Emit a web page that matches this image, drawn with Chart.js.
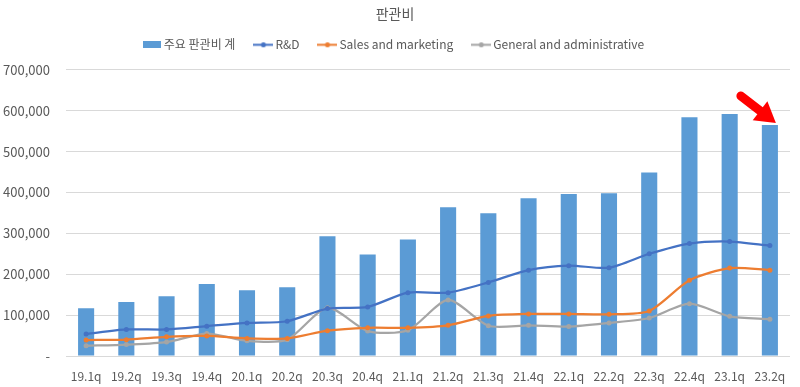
<!DOCTYPE html>
<html>
<head>
<meta charset="utf-8">
<script src="https://cdn.jsdelivr.net/npm/chart.js@4"></script>
<style>
html,body{margin:0;padding:0;background:#fff;}
#wrap{width:800px;height:387px;position:relative;}
</style>
</head>
<body>
<div id="wrap"><canvas id="c"></canvas></div>
<script>
const categories = ['19.1q','19.2q','19.3q','19.4q','20.1q','20.2q','20.3q','20.4q','21.1q','21.2q','21.3q','21.4q','22.1q','22.2q','22.3q','22.4q','23.1q','23.2q'];
const totalSGA = [117000,132000,146000,176000,161000,168000,293000,248000,285000,364000,349000,386000,396000,398000,449000,584000,592000,565000];
const rnd = [54000,65000,65000,73000,81000,85000,116000,120000,155000,155000,180000,210000,221000,216000,250000,275000,280000,270000];
const salesMarketing = [39000,40000,47000,49000,43000,43000,62000,69000,69000,75000,98000,103000,103000,102000,110000,185000,215000,210000];
const generalAdmin = [25000,28000,34000,55000,37000,40000,118000,61000,63000,137000,74000,75000,72000,81000,93000,128000,97000,90000];
const seriesNames = ['주요 판관비 계','R&D','Sales and marketing','General and administrative'];
const yTicks = [0,100000,200000,300000,400000,500000,600000,700000];

const FONT = "'Noto Sans CJK KR', 'Noto Sans', sans-serif";
const TXT = '#595959';
const C_BAR = '#5B9BD5', C_RD = '#4472C4', C_SM = '#ED7D31', C_GA = '#A5A5A5';

function swatchBar(color){
  const c = document.createElement('canvas'); c.width = 18; c.height = 7;
  const x = c.getContext('2d'); x.fillStyle = color; x.fillRect(0,0,18,7); return c;
}
function swatchLine(color){
  const c = document.createElement('canvas'); c.width = 20; c.height = 7;
  const x = c.getContext('2d'); x.strokeStyle = color; x.lineWidth = 2;
  x.beginPath(); x.moveTo(0,3.5); x.lineTo(20,3.5); x.stroke();
  x.fillStyle = color; x.beginPath(); x.arc(10,3.5,2.5,0,Math.PI*2); x.fill(); return c;
}
const swatches = [swatchBar(C_BAR), swatchLine(C_RD), swatchLine(C_SM), swatchLine(C_GA)];

const legendFix = {
  id: 'legendFix',
  afterInit(chart){
    const lg = chart.legend;
    const origFit = lg.fit.bind(lg);
    lg.fit = function(){ origFit(); this.height = 48; };
    const origDraw = lg.draw.bind(lg);
    lg.draw = function(){
      const ctx = this.ctx; ctx.save(); ctx.translate(0, -5); origDraw(); ctx.restore();
    };
  }
};

const arrowPlugin = {
  id: 'arrow',
  afterDatasetsDraw(chart){
    const xs = chart.scales.x, ys = chart.scales.y;
    const i = categories.length - 1;
    const xc = xs.getPixelForValue(i);
    const top = ys.getPixelForValue(totalSGA[i]);
    const tip = {x: xc + 6, y: top - 2};
    const tail = {x: xc - 29, y: top - 29};
    const dx = tip.x - tail.x, dy = tip.y - tail.y, L = Math.hypot(dx, dy);
    const ux = dx / L, uy = dy / L, px = -uy, py = ux;
    const hl = 20, hw = 12;
    const bx = tip.x - ux*hl, by = tip.y - uy*hl;
    const ctx = chart.ctx;
    ctx.save();
    ctx.strokeStyle = '#FF0000'; ctx.fillStyle = '#FF0000';
    ctx.lineWidth = 9; ctx.lineCap = 'round';
    ctx.beginPath(); ctx.moveTo(tail.x, tail.y); ctx.lineTo(bx + ux*2, by + uy*2); ctx.stroke();
    ctx.beginPath();
    ctx.moveTo(tip.x, tip.y);
    ctx.lineTo(bx + px*hw, by + py*hw);
    ctx.lineTo(bx - px*hw, by - py*hw);
    ctx.closePath(); ctx.fill();
    ctx.restore();
  }
};

const lineDs = (label, data, color) => ({
  type: 'line', label, data, borderColor: color, backgroundColor: color,
  borderWidth: 2.25, pointRadius: 2.5, pointBackgroundColor: color, pointBorderColor: color,
  pointBorderWidth: 0, tension: 0.25, order: 0
});

new Chart(document.getElementById('c'), {
  data: {
    labels: categories,
    datasets: [
      { type: 'bar', label: seriesNames[0], data: totalSGA, backgroundColor: C_BAR, borderWidth: 0,
        barPercentage: 0.4, categoryPercentage: 1.0, order: 1 },
      lineDs(seriesNames[1], rnd, C_RD),
      lineDs(seriesNames[2], salesMarketing, C_SM),
      lineDs(seriesNames[3], generalAdmin, C_GA)
    ]
  },
  options: {
    responsive: true, maintainAspectRatio: false, animation: false,
    layout: { padding: { left: 0, right: 10, top: 0, bottom: 0 } },
    plugins: {
      tooltip: { enabled: false },
      title: { display: true, text: '판관비', color: TXT, font: { family: FONT, size: 14, weight: 'normal' },
        padding: { top: 5, bottom: 0 } },
      legend: {
        display: true, position: 'top',
        labels: {
          color: TXT, font: { family: FONT, size: 12 }, usePointStyle: true, pointStyleWidth: 12,
          padding: 22,
          generateLabels(chart){
            return seriesNames.map((n, k) => ({
              text: n, fillStyle: [C_BAR, C_RD, C_SM, C_GA][k],
              strokeStyle: 'transparent', lineWidth: 0, pointStyle: swatches[k],
              hidden: false, datasetIndex: k, fontColor: TXT
            }));
          }
        }
      }
    },
    scales: {
      x: {
        grid: { display: false, drawTicks: false },
        border: { display: false },
        ticks: { color: TXT, font: { family: FONT, size: 12 }, padding: 13, maxRotation: 0, autoSkip: false },
        afterFit(s){ s.height = 31; }
      },
      y: {
        min: 0, max: 700000,
        afterBuildTicks(s){ s.ticks = yTicks.map(v => ({ value: v })); },
        grid: { color: '#D9D9D9', lineWidth: 1, drawTicks: false },
        border: { display: false },
        ticks: { color: TXT, font: { family: FONT, size: 13 }, padding: 16,
          callback: v => v === 0 ? '-' : v.toLocaleString('en-US') },
        afterFit(s){ s.width = 66; }
      }
    }
  },
  plugins: [legendFix, arrowPlugin]
});
</script>
</body>
</html>
